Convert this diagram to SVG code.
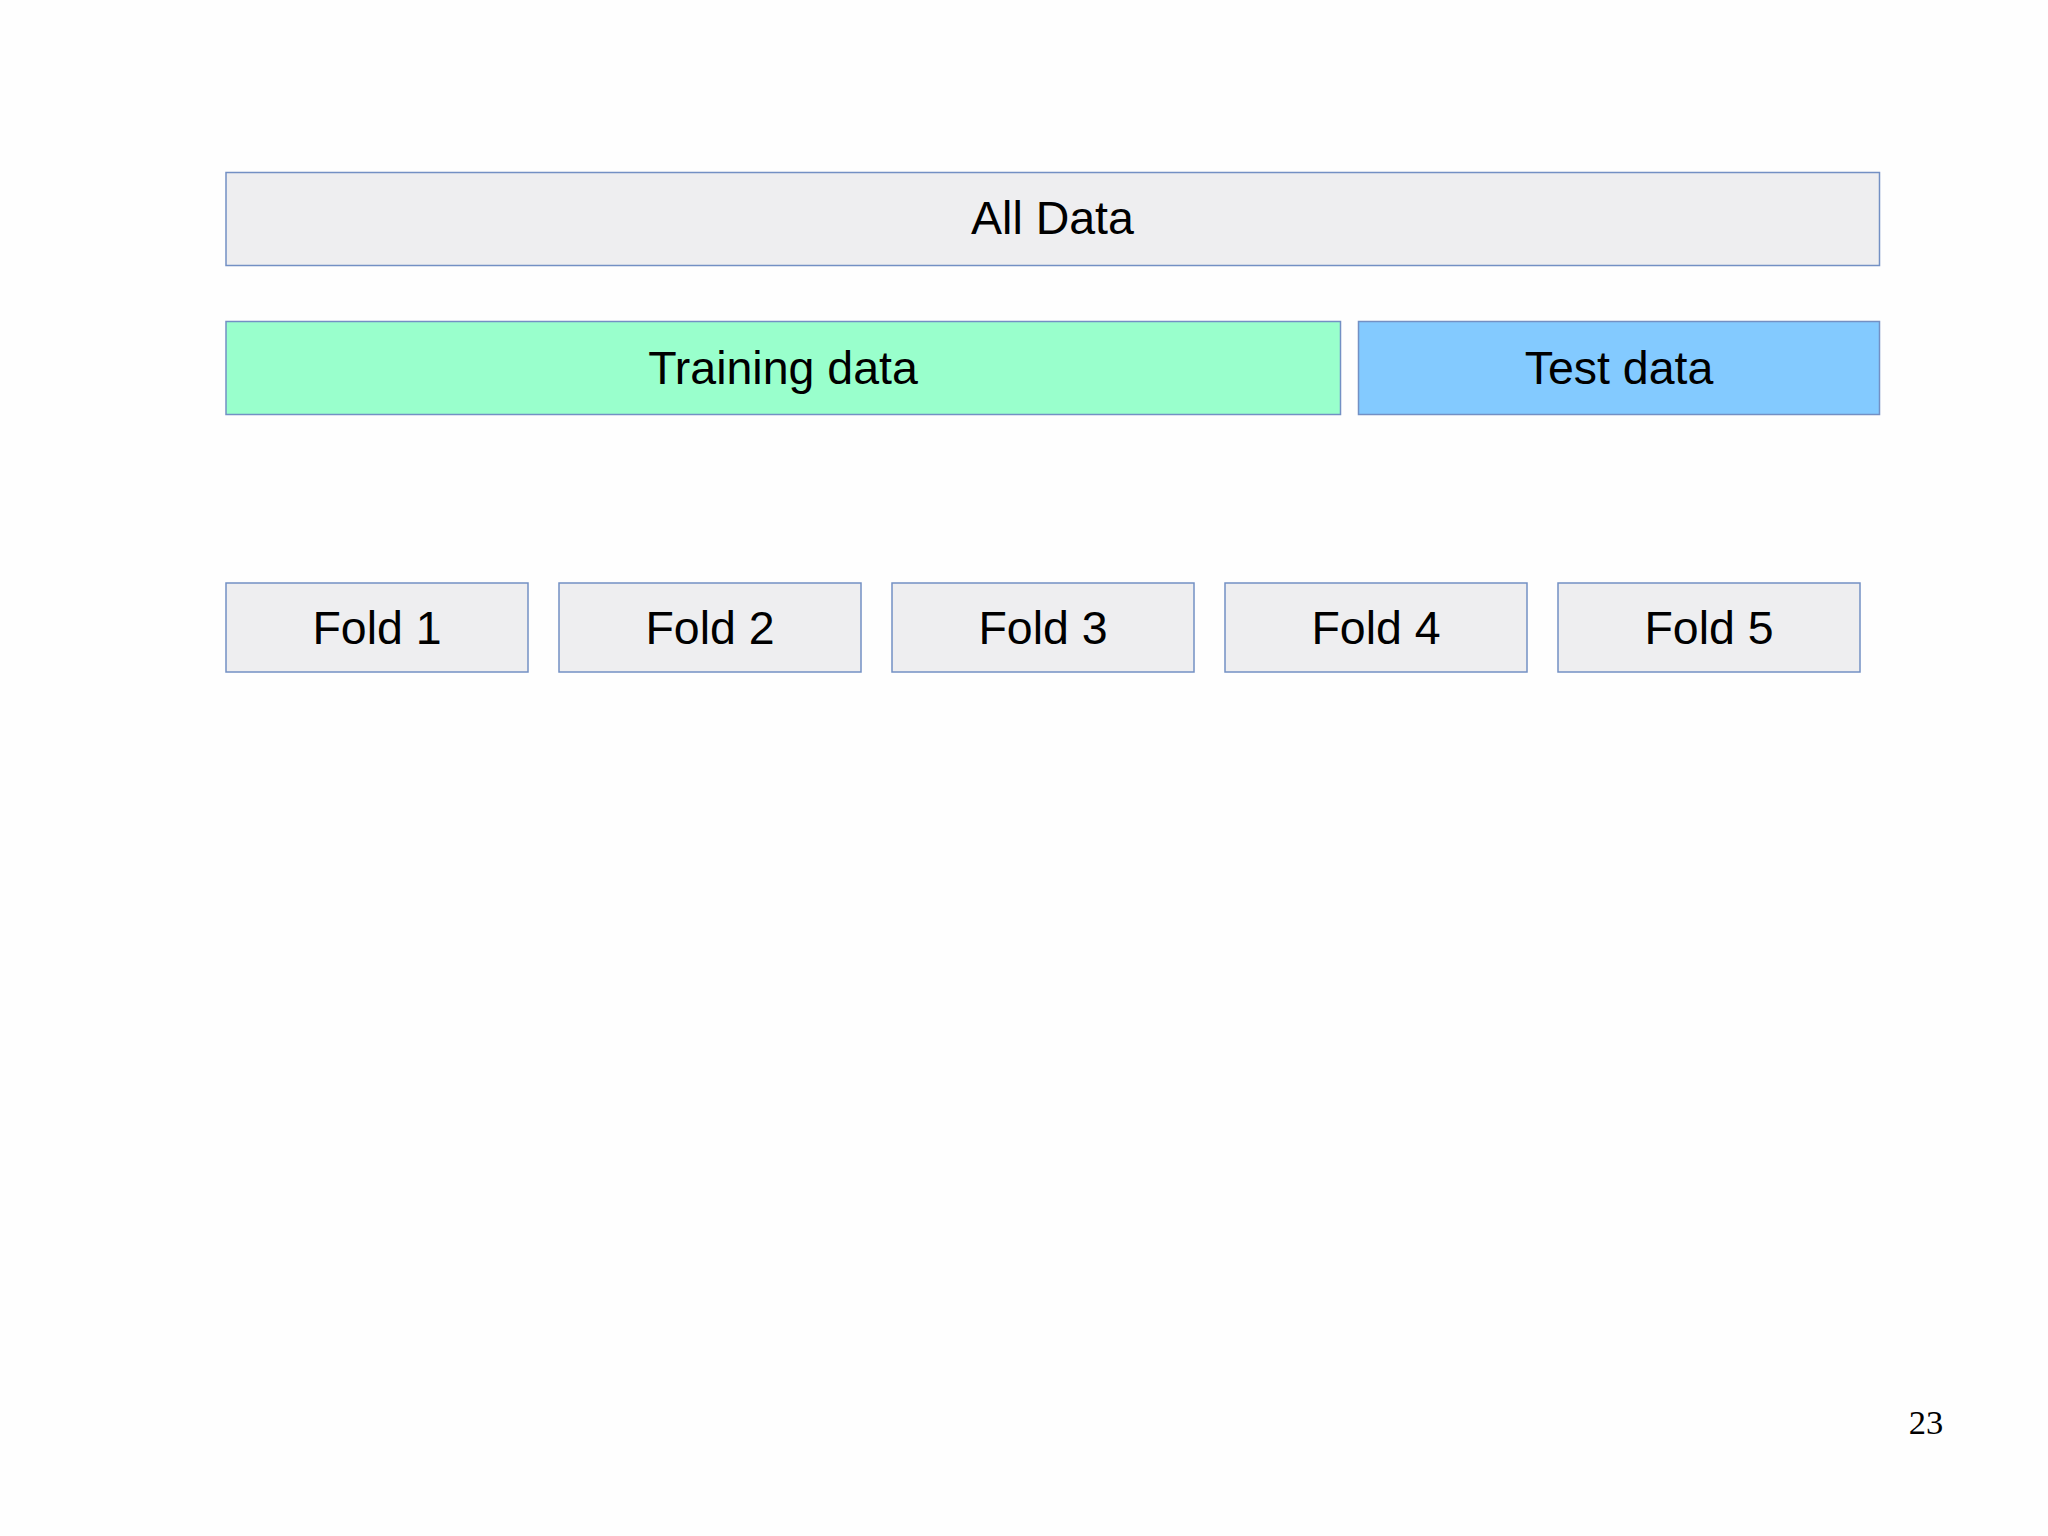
<svg xmlns="http://www.w3.org/2000/svg" width="2048" height="1536" viewBox="0 0 2048 1536">
<style>
.box{stroke:#7390c4;stroke-width:1.5}
.grey{fill:#eeeef0}
.lbl{font-family:"Liberation Sans",Arial,sans-serif;font-size:46.5px;fill:#000;text-anchor:middle}
.pg{font-family:"Liberation Serif","Times New Roman",serif;font-size:34.5px;fill:#000;text-anchor:middle}
</style>
<rect width="2048" height="1536" fill="#fefefe"/>
<g id="all-data"><rect class="box grey" x="226" y="172.5" width="1653.5" height="93"/><text class="lbl" x="1052.5" y="234">All Data</text></g>
<g id="training-data"><rect class="box" fill="#99ffcc" x="226" y="321.5" width="1114.5" height="93"/><text class="lbl" x="783" y="384">Training data</text></g>
<g id="test-data"><rect class="box" fill="#83caff" x="1358.5" y="321.5" width="521" height="93"/><text class="lbl" x="1619" y="384">Test data</text></g>
<g id="fold1"><rect class="box grey" x="226" y="583" width="302" height="89"/><text class="lbl" x="377" y="644">Fold 1</text></g>
<g id="fold2"><rect class="box grey" x="559" y="583" width="302" height="89"/><text class="lbl" x="710" y="644">Fold 2</text></g>
<g id="fold3"><rect class="box grey" x="892" y="583" width="302" height="89"/><text class="lbl" x="1043" y="644">Fold 3</text></g>
<g id="fold4"><rect class="box grey" x="1225" y="583" width="302" height="89"/><text class="lbl" x="1376" y="644">Fold 4</text></g>
<g id="fold5"><rect class="box grey" x="1558" y="583" width="302" height="89"/><text class="lbl" x="1709" y="644">Fold 5</text></g>
<g id="connectors"/>
<text class="pg" x="1926" y="1434">23</text>
</svg>
